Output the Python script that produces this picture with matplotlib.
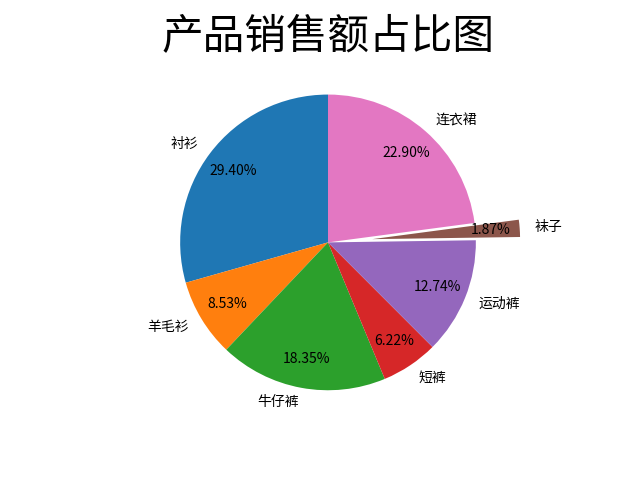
import matplotlib
matplotlib.use("Agg")
import matplotlib.pyplot as plt

plt.rcParams["font.family"] = ["Noto Sans CJK SC", "DejaVu Sans"]
plt.rcParams["axes.unicode_minus"] = False

# product sales share (%)
labels = ["衬衫", "羊毛衫", "牛仔裤", "短裤", "运动裤", "袜子", "连衣裙"]
shares = [29.40, 8.53, 18.35, 6.22, 12.74, 1.87, 22.90]
explode = [0, 0, 0, 0, 0, 0.3, 0]

fig, ax = plt.subplots(figsize=(6.4, 4.8), dpi=100)
ax.pie(shares, labels=labels, explode=explode, autopct="%.2f%%",
       startangle=90, pctdistance=0.8)
ax.set_title("产品销售额占比图", fontsize=30)
fig.savefig("out.png", dpi=100)
